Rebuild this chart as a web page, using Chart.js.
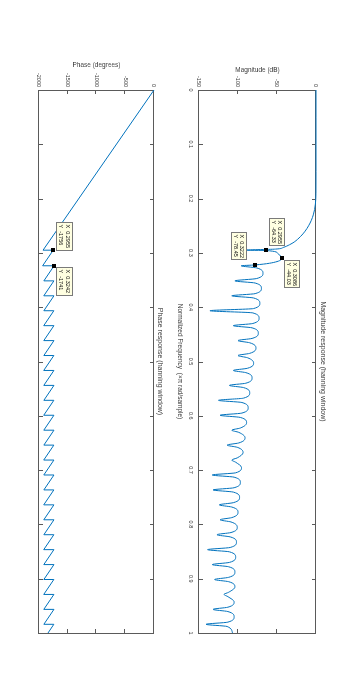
<!DOCTYPE html>
<html>
<head>
<meta charset="utf-8">
<script src="https://cdn.jsdelivr.net/npm/chart.js@4.4.0/dist/chart.umd.min.js"></script>
<style>
  html, body { margin: 0; padding: 0; background: #fff; overflow: hidden; }
  /* the figure is drawn landscape and turned a quarter turn clockwise */
  #fig { position: absolute; left: 0; top: 0; width: 700px; height: 342px;
         transform-origin: 0 0; transform: translate(342px, 0) rotate(90deg); }
  #fig canvas { position: absolute; left: 0; }
  #magCanvas { top: 0; }
  #phaseCanvas { top: 175px; }
</style>
</head>
<body>
<div id="fig">
  <canvas id="magCanvas" width="700" height="175"></canvas>
  <canvas id="phaseCanvas" width="700" height="167"></canvas>
</div>
<script>
// Tick labels
const freqTicks = [0, 0.1, 0.2, 0.3, 0.4, 0.5, 0.6, 0.7, 0.8, 0.9, 1];
const magTicks = [-150, -100, -50, 0];
const phaseTicks = [-2000, -1500, -1000, -500, 0];

// Magnitude response (dB)
const magFreq = [
  0, 0.05, 0.10, 0.15, 0.19, 0.20, 0.21, 0.22, 0.23, 0.24, 0.25, 0.26, 0.27, 0.28, 0.285, 0.29, 0.293,
  0.2950, 0.2955, 0.3010, 0.3086, 0.3160, 0.3222,
  0.3237, 0.3277, 0.3375, 0.3472,
  0.3515, 0.3555, 0.3653, 0.3750,
  0.3790, 0.3830, 0.3928, 0.4025,
  0.4065, 0.4105, 0.4203, 0.4300,
  0.4340, 0.4380, 0.4478, 0.4575,
  0.4615, 0.4655, 0.4753, 0.4850,
  0.4890, 0.4930, 0.5028, 0.5125,
  0.5165, 0.5205, 0.5303, 0.5400,
  0.5440, 0.5480, 0.5578, 0.5675,
  0.5715, 0.5755, 0.5853, 0.5950,
  0.5990, 0.6030, 0.6128, 0.6225,
  0.6265, 0.6305, 0.6403, 0.6500,
  0.6540, 0.6580, 0.6678, 0.6775,
  0.6815, 0.6855, 0.6953, 0.7050,
  0.7090, 0.7130, 0.7228, 0.7325,
  0.7365, 0.7405, 0.7503, 0.7600,
  0.7640, 0.7680, 0.7778, 0.7875,
  0.7915, 0.7955, 0.8053, 0.8150,
  0.8190, 0.8230, 0.8328, 0.8425,
  0.8465, 0.8505, 0.8603, 0.8700,
  0.8740, 0.8780, 0.8878, 0.8975,
  0.9015, 0.9055, 0.9153, 0.9250,
  0.9290, 0.9330, 0.9428, 0.9525,
  0.9565, 0.9605, 0.9703, 0.9800,
  0.9840, 0.9880, 1.0
];
const magDb = [
  0, 0, 0, 0, -0.1, -0.3, -0.8, -1.8, -3.5, -6, -9.5, -14, -20, -28, -34, -42, -52,
  -92, -64.33, -49, -44.03, -50, -78.45,
  -96, -76, -68, -76,
  -104, -78, -70, -78,
  -108, -80, -72, -80,
  -136, -81, -73, -81,
  -106, -82, -74, -82,
  -100, -85, -77, -85,
  -100, -88, -80, -88,
  -106, -90, -82, -90,
  -111, -93, -85, -93,
  -125, -95, -87, -95,
  -123, -97, -89, -97,
  -108, -99, -91, -99,
  -114, -101, -93.5, -101,
  -108, -103, -95.5, -103,
  -133, -105, -97, -105,
  -132, -106, -98, -106,
  -124, -108, -100, -108,
  -123, -109, -101, -109,
  -127, -110, -102, -110,
  -139, -111, -103, -111,
  -133, -112, -104, -112,
  -130, -112, -104, -112,
  -118, -113, -105, -113,
  -132, -113, -105, -113,
  -141, -114, -107
];

// Phase response (degrees)
const phaseFreq = [
  0,
  0.2950, 0.2950, 0.3237, 0.3237, 0.3515, 0.3515, 0.3790, 0.3790,
  0.4065, 0.4065, 0.4340, 0.4340, 0.4615, 0.4615, 0.4890, 0.4890,
  0.5165, 0.5165, 0.5440, 0.5440, 0.5715, 0.5715, 0.5990, 0.5990,
  0.6265, 0.6265, 0.6540, 0.6540, 0.6815, 0.6815, 0.7090, 0.7090,
  0.7365, 0.7365, 0.7640, 0.7640, 0.7915, 0.7915, 0.8190, 0.8190,
  0.8465, 0.8465, 0.8740, 0.8740, 0.9015, 0.9015, 0.9290, 0.9290,
  0.9565, 0.9565, 0.9840, 0.9840,
  1.0
];
const phaseDeg = [
  0,
  -1930, -1753, -1937, -1738, -1916, -1741, -1917, -1740,
  -1916, -1742, -1918, -1741, -1917, -1740, -1916, -1742,
  -1918, -1741, -1917, -1740, -1916, -1742, -1918, -1741,
  -1917, -1740, -1916, -1742, -1918, -1741, -1917, -1740,
  -1916, -1742, -1918, -1741, -1917, -1740, -1916, -1742,
  -1918, -1741, -1917, -1740, -1916, -1742, -1918, -1741,
  -1917, -1740, -1916, -1742,
  -1844
];

// Data tips
const magTipFreq = [0.2955, 0.3086, 0.3222];
const magTipDb = [-64.33, -44.03, -78.45];
const phaseTipFreq = [0.2955, 0.3242];
const phaseTipDeg = [-1756, -1741];

const FONT = '"Liberation Sans", Arial, Helvetica, sans-serif';
const TEXT = '#3c3c3c';
const AXIS = '#5a5a5a';
const LINE = '#0072BD';

Chart.defaults.font.family = FONT;
Chart.defaults.color = TEXT;

function setTicks(values) {
  return scale => { scale.ticks = values.map(v => ({ value: v })); };
}

// Box and inward tick marks, MATLAB style
const matlabAxes = {
  id: 'matlabAxes',
  beforeDatasetsDraw(chart) {
    const { ctx, chartArea: a, scales: { x, y } } = chart;
    ctx.save();
    ctx.strokeStyle = AXIS;
    ctx.lineWidth = 1;
    ctx.strokeRect(a.left + 0.5, a.top + 0.5, a.width, a.height);
    ctx.beginPath();
    x.ticks.forEach(t => {
      const px = Math.round(x.getPixelForValue(t.value)) + 0.5;
      ctx.moveTo(px, a.bottom); ctx.lineTo(px, a.bottom - 4);
      ctx.moveTo(px, a.top); ctx.lineTo(px, a.top + 4);
    });
    y.ticks.forEach(t => {
      const py = Math.round(y.getPixelForValue(t.value)) + 0.5;
      ctx.moveTo(a.left, py); ctx.lineTo(a.left + 4, py);
      ctx.moveTo(a.right, py); ctx.lineTo(a.right - 4, py);
    });
    ctx.stroke();
    ctx.restore();
  }
};

// Titles and axis labels
function labelsPlugin(cfg) {
  return {
    id: 'labels',
    afterDraw(chart) {
      const { ctx, chartArea: a } = chart;
      const cx = (a.left + a.right) / 2;
      const cy = (a.top + a.bottom) / 2;
      ctx.save();
      ctx.fillStyle = TEXT;
      ctx.textAlign = 'center';
      ctx.textBaseline = 'middle';
      ctx.font = '7px ' + FONT;
      ctx.fillText(cfg.title, cx, a.top - cfg.titleGap);
      ctx.font = '6.5px ' + FONT;
      if (cfg.xlabel) ctx.fillText(cfg.xlabel, cx, a.bottom + cfg.xlabelGap);
      ctx.translate(a.left - cfg.ylabelGap, cy);
      ctx.rotate(-Math.PI / 2);
      ctx.fillText(cfg.ylabel, 0, 0);
      ctx.restore();
    }
  };
}

// Data tips: black square on the curve and a pale yellow text box
function tipsPlugin(freqs, vals, fmt, boxes, size) {
  return {
    id: 'tips',
    afterDraw(chart) {
      const { ctx, scales: { x, y } } = chart;
      ctx.save();
      freqs.forEach((f, i) => {
        const px = x.getPixelForValue(f);
        const py = y.getPixelForValue(vals[i]);
        const bx = Math.round(px + boxes[i][0]) + 0.5;
        const by = Math.round(py + boxes[i][1]) + 0.5;
        ctx.fillStyle = '#ffffe1';
        ctx.strokeStyle = '#7a7a7a';
        ctx.lineWidth = 1;
        ctx.fillRect(bx, by, size[0], size[1]);
        ctx.strokeRect(bx, by, size[0], size[1]);
        ctx.fillStyle = '#111';
        ctx.font = '5.5px ' + FONT;
        ctx.textAlign = 'left';
        ctx.textBaseline = 'middle';
        ctx.fillText('X  ' + f.toFixed(4), bx + 2, by + size[1] * 0.3);
        ctx.fillText('Y  ' + fmt(vals[i]), bx + 2, by + size[1] * 0.72);
        ctx.fillStyle = '#000';
        ctx.fillRect(Math.round(px) - 2, Math.round(py) - 2, 4, 4);
      });
      ctx.restore();
    }
  };
}

function makeChart(canvasId, opts) {
  const points = opts.freq.map((f, i) => ({ x: f, y: opts.values[i] }));
  return new Chart(document.getElementById(canvasId), {
    type: 'line',
    data: {
      datasets: [{
        data: points,
        borderColor: LINE,
        borderWidth: 1,
        pointRadius: 0,
        tension: 0,
        cubicInterpolationMode: opts.smooth ? 'monotone' : 'default',
        fill: false,
        clip: 2
      }]
    },
    options: {
      responsive: false,
      animation: false,
      devicePixelRatio: 1,
      layout: { padding: { left: 0, right: 67, top: opts.top, bottom: 0 } },
      plugins: { legend: { display: false }, tooltip: { enabled: false } },
      scales: {
        x: {
          type: 'linear',
          min: 0,
          max: 1,
          afterBuildTicks: setTicks(freqTicks),
          afterFit: s => { s.height = opts.xHeight; },
          grid: { display: false, drawTicks: false },
          border: { display: false },
          ticks: {
            display: opts.showFreqLabels,
            padding: 5,
            maxRotation: 0,
            autoSkip: false,
            font: { size: 5.5 },
            callback: v => String(v)
          }
        },
        y: {
          type: 'linear',
          min: opts.yMin,
          max: 0,
          afterBuildTicks: setTicks(opts.yTicks),
          afterFit: s => { s.width = 90; },
          grid: { display: false, drawTicks: false },
          border: { display: false },
          ticks: { padding: 3, font: { size: 5.5 }, callback: v => String(v) }
        }
      }
    },
    plugins: [matlabAxes, labelsPlugin(opts.labels), opts.tips]
  });
}

makeChart('magCanvas', {
  freq: magFreq,
  values: magDb,
  smooth: true,
  top: 26,
  xHeight: 32,
  yMin: -150,
  yTicks: magTicks,
  showFreqLabels: true,
  labels: {
    title: 'Magnitude response (hanning window)', titleGap: 7,
    xlabel: 'Normalized Frequency  (\u00d7\u03c0 rad/sample)', xlabelGap: 19,
    ylabel: 'Magnitude (dB)', ylabelGap: 20
  },
  tips: tipsPlugin(magTipFreq, magTipDb, v => v.toFixed(2),
    [[-32.5, -19], [2.4, -18], [-33, 8]], [27, 15])
});

makeChart('phaseCanvas', {
  freq: phaseFreq,
  values: phaseDeg,
  smooth: false,
  top: 13,
  xHeight: 39,
  yMin: -2000,
  yTicks: phaseTicks,
  showFreqLabels: false,
  labels: {
    title: 'Phase response (hanning window)', titleGap: 6,
    xlabel: '', xlabelGap: 0,
    ylabel: 'Phase (degrees)', ylabelGap: 25
  },
  tips: tipsPlugin(phaseTipFreq, phaseTipDeg, v => String(v),
    [[-28.5, -20], [1, -19]], [28, 16])
});
</script>
</body>
</html>
